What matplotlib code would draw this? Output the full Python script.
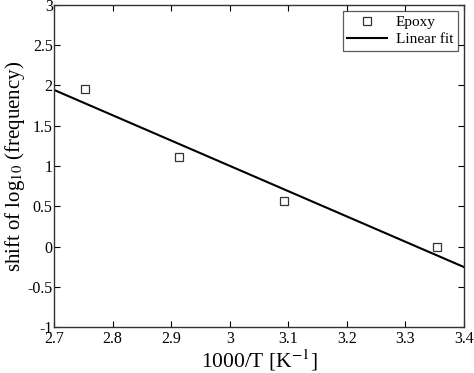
import matplotlib
matplotlib.use("Agg")
import matplotlib.pyplot as plt

plt.rcParams['font.family'] = ['Liberation Serif', 'DejaVu Serif']
plt.rcParams['mathtext.fontset'] = 'stix'

# data
inv_T = [2.753, 2.914, 3.093, 3.353]
shift = [1.96, 1.11, 0.56, 0.0]
fit_x = [2.7, 3.4]
fit_y = [1.944, -0.255]
xticks = [2.7, 2.8, 2.9, 3.0, 3.1, 3.2, 3.3, 3.4]
yticks = [-1, -0.5, 0, 0.5, 1, 1.5, 2, 2.5, 3]

fig = plt.figure(figsize=(4.74, 3.73), dpi=100)
ax = fig.add_axes([0.114, 0.123, 0.865, 0.864])

ax.plot(inv_T, shift, 's', mfc='white', mec='#333333', ms=6, mew=0.9, label='Epoxy')
ax.plot(fit_x, fit_y, '-', color='black', lw=1.5, label='Linear fit')

ax.set_xlim(2.7, 3.4)
ax.set_ylim(-1, 3)
ax.set_xticks(xticks)
ax.set_xticklabels(['2.7', '2.8', '2.9', '3', '3.1', '3.2', '3.3', '3.4'])
ax.set_yticks(yticks)
ax.set_yticklabels(['-1', '-0.5', '0', '0.5', '1', '1.5', '2', '2.5', '3'])
ax.tick_params(direction='in', top=True, right=True, labelsize=11.5, length=4)
ax.tick_params(axis='x', pad=3)
ax.tick_params(axis='y', pad=1)
for s in ax.spines.values():
    s.set_linewidth(1.0)
    s.set_color('#333333')

ax.set_xlabel('1000/T [K$^{-1}$]', fontsize=15.5, labelpad=0)
ax.set_ylabel('shift of log$_{10}$ (frequency)', fontsize=15, labelpad=0)

leg = ax.legend(loc='upper right', fontsize=11, frameon=True, fancybox=False,
                edgecolor='#333333', borderaxespad=0.4, handlelength=2.6,
                borderpad=0.3, labelspacing=0.2, handletextpad=0.6)
leg.get_frame().set_linewidth(0.9)

fig.savefig('out.png', dpi=100)
